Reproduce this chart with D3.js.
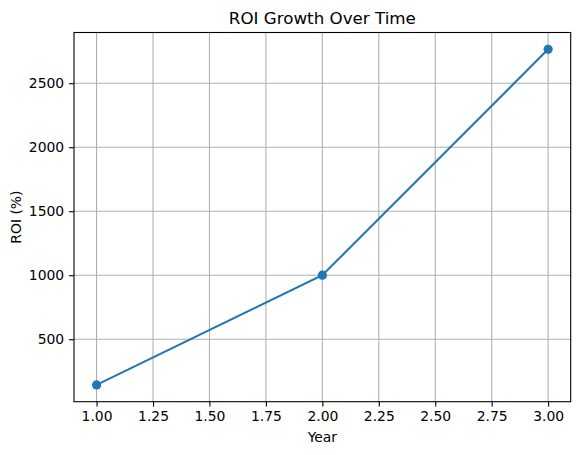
<!DOCTYPE html>
<html>
<head>
<meta charset="utf-8">
<script src="https://cdn.jsdelivr.net/npm/d3@7"></script>
<style>
  body { margin: 0; background: #fff; }
  text { font-family: "DejaVu Sans", sans-serif; fill: #000; }
</style>
</head>
<body>
<div class="chart"></div>
<script>
const YEARS = [1, 2, 3];
const ROI = [143, 1000, 2765];
const X_TICKS = [1.00, 1.25, 1.50, 1.75, 2.00, 2.25, 2.50, 2.75, 3.00];
const Y_TICKS = [500, 1000, 1500, 2000, 2500];

// plot area, matched to the reference
var margin = {top: 32.5, right: 9.3, bottom: 53.3, left: 74},
    width  = 580 - margin.left - margin.right,
    height = 455 - margin.top - margin.bottom;

var svg = d3.select(".chart")
            .append("svg")
            .attr("width", 580)
            .attr("height", 455);

var g = svg.append("g")
           .attr("transform", "translate(" + margin.left + "," + margin.top + ")");

// 5% padding on each side like matplotlib
var xPad = (d3.max(YEARS) - d3.min(YEARS)) * 0.05;
var yPad = (d3.max(ROI) - d3.min(ROI)) * 0.05;

var x = d3.scaleLinear()
          .domain([d3.min(YEARS) - xPad, d3.max(YEARS) + xPad])
          .range([0, width]);

var y = d3.scaleLinear()
          .domain([d3.min(ROI) - yPad, d3.max(ROI) + yPad])
          .range([height, 0]);

// grid
g.append("g").selectAll("line")
  .data(X_TICKS)
  .enter().append("line")
  .attr("x1", d => x(d)).attr("x2", d => x(d))
  .attr("y1", 0).attr("y2", height)
  .attr("stroke", "#b0b0b0").attr("stroke-width", 1.1);

g.append("g").selectAll("line")
  .data(Y_TICKS)
  .enter().append("line")
  .attr("x1", 0).attr("x2", width)
  .attr("y1", d => y(d)).attr("y2", d => y(d))
  .attr("stroke", "#b0b0b0").attr("stroke-width", 1.1);

// axes
var xAxis = g.append("g")
    .attr("transform", "translate(0," + height + ")")
    .call(d3.axisBottom(x).tickValues(X_TICKS).tickFormat(d3.format(".2f")).tickSize(4.9).tickPadding(4.9));

var yAxis = g.append("g")
    .call(d3.axisLeft(y).tickValues(Y_TICKS).tickFormat(d3.format("d")).tickSize(4.9).tickPadding(4.9));

[xAxis, yAxis].forEach(a => {
  a.select(".domain").remove();
  a.selectAll(".tick line").attr("stroke", "#000").attr("stroke-width", 1.1);
  a.selectAll(".tick text").style("font-size", "13.9px").style("font-family", "DejaVu Sans");
});

// frame
g.append("rect")
  .attr("width", width).attr("height", height)
  .attr("fill", "none").attr("stroke", "#000").attr("stroke-width", 1.1);

// line and markers
var line = d3.line()
             .x((d, i) => x(YEARS[i]))
             .y(d => y(d));

g.append("path")
  .datum(ROI)
  .attr("d", line)
  .attr("fill", "none")
  .attr("stroke", "#1f77b4")
  .attr("stroke-width", 2.08);

g.selectAll(".dot")
  .data(ROI)
  .enter().append("circle")
  .attr("cx", (d, i) => x(YEARS[i]))
  .attr("cy", d => y(d))
  .attr("r", 4.6)
  .attr("fill", "#1f77b4");

// labels
svg.append("text")
  .attr("x", margin.left + width / 2).attr("y", 24)
  .attr("text-anchor", "middle")
  .style("font-size", "16.7px")
  .text("ROI Growth Over Time");

svg.append("text")
  .attr("x", margin.left + width / 2).attr("y", 442)
  .attr("text-anchor", "middle")
  .style("font-size", "13.9px")
  .text("Year");

svg.append("text")
  .attr("transform", "translate(21," + (margin.top + height / 2) + ") rotate(-90)")
  .attr("text-anchor", "middle")
  .style("font-size", "13.9px")
  .text("ROI (%)");
</script>
</body>
</html>
